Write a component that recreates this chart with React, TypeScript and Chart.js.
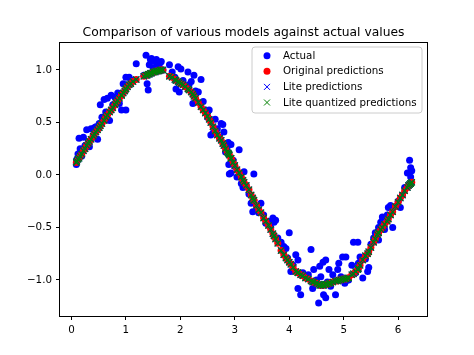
import React, { useEffect, useRef } from "react";
import { Chart, registerables } from "chart.js";

Chart.register(...registerables);

const chartTitle = "Comparison of various models against actual values";
const seriesLabels = ["Actual", "Original predictions", "Lite predictions", "Lite quantized predictions"];
const xTicks = [0, 1, 2, 3, 4, 5, 6];
const yTicks = [-1.0, -0.5, 0.0, 0.5, 1.0];

const xValues = [
  0.09, 0.10, 0.12, 0.14, 0.16, 0.19, 0.22, 0.25, 0.28, 0.31,
  0.33, 0.36, 0.40, 0.42, 0.45, 0.48, 0.51, 0.53, 0.56, 0.60,
  0.63, 0.66, 0.70, 0.73, 0.76, 0.80, 0.82, 0.85, 0.88, 0.92,
  0.92, 0.95, 0.98, 1.00, 1.00, 1.03, 1.06, 1.09, 1.13, 1.19,
  1.33, 1.37, 1.39, 1.41, 1.43, 1.45, 1.47, 1.50, 1.52, 1.54,
  1.56, 1.58, 1.61, 1.63, 1.65, 1.68, 1.80, 1.85, 1.90, 1.92,
  1.96, 1.98, 2.01, 2.05, 2.09, 2.14, 2.16, 2.20, 2.23, 2.25,
  2.28, 2.33, 2.38, 2.42, 2.46, 2.50, 2.53, 2.56, 2.60, 2.64,
  2.68, 2.72, 2.75, 2.78, 2.80, 2.83, 2.86, 2.88, 2.89, 2.90,
  2.93, 2.93, 2.97, 3.00, 3.04, 3.08, 3.12, 3.15, 3.17, 3.21,
  3.26, 3.30, 3.33, 3.35, 3.35, 3.40, 3.44, 3.48, 3.53, 3.57,
  3.62, 3.66, 3.70, 3.72, 3.75, 3.79, 3.85, 3.90, 3.94, 3.97,
  4.00, 4.03, 4.07, 4.12, 4.16, 4.16, 4.21, 4.25, 4.30, 4.35,
  4.40, 4.43, 4.45, 4.50, 4.54, 4.56, 4.58, 4.62, 4.63, 4.67,
  4.67, 4.70, 4.73, 4.76, 4.80, 4.85, 4.89, 4.91, 4.95, 4.98,
  5.02, 5.04, 5.07, 5.09, 5.15, 5.18, 5.22, 5.26, 5.27, 5.30,
  5.35, 5.40, 5.44, 5.46, 5.50, 5.55, 5.58, 5.62, 5.64, 5.64,
  5.68, 5.71, 5.75, 5.80, 5.82, 5.86, 5.90, 5.95, 6.00, 6.04,
  6.08, 6.12, 6.17, 6.19, 6.21, 6.23, 6.23, 6.25,
];

const actualValues = [
  0.10, 0.15, 0.20, 0.35, 0.25, 0.18, 0.36, 0.28, 0.43, 0.32,
  0.27, 0.44, 0.38, 0.45, 0.46, 0.34, 0.49, 0.67, 0.55, 0.72,
  0.60, 0.73, 0.52, 0.76, 0.67, 0.74, 0.70, 0.78, 0.68, 0.62,
  0.77, 0.87, 0.80, 0.62, 0.93, 0.85, 0.93, 0.88, 0.90, 1.06,
  0.95, 1.14, 0.87, 0.81, 1.05, 1.10, 1.11, 1.02, 1.08, 1.00,
  1.10, 1.05, 1.02, 1.07, 1.08, 1.00, 1.05, 0.98, 0.93, 0.82,
  1.03, 0.79, 1.01, 0.90, 0.85, 0.98, 0.86, 0.89, 0.68, 0.95,
  0.80, 0.79, 0.91, 0.70, 0.62, 0.55, 0.62, 0.38, 0.40, 0.53,
  0.44, 0.36, 0.49, 0.48, 0.41, 0.22, 0.27, 0.31, 0.10, 0.01,
  0.29, 0.02, 0.14, 0.08, -0.02, 0.24, -0.08, -0.12, 0.03, -0.10,
  -0.18, -0.27, -0.35, 0.01, -0.24, -0.30, -0.36, -0.27, -0.38, -0.46,
  -0.44, -0.50, -0.41, -0.45, -0.43, -0.60, -0.64, -0.68, -0.70, -0.79,
  -0.55, -0.92, -0.86, -0.76, -0.81, -1.08, -1.14, -0.93, -0.97, -0.95,
  -0.71, -1.08, -0.90, -1.00, -1.22, -0.87, -0.97, -0.83, -1.14, -0.81,
  -1.17, -1.02, -0.90, -1.06, -0.95, -1.14, -0.90, -0.84, -0.97, -0.78,
  -1.03, -0.78, -1.00, -1.00, -0.86, -0.64, -0.93, -0.64, -0.84, -0.78,
  -0.98, -0.80, -0.92, -0.88, -0.66, -0.60, -0.55, -0.57, -0.62, -0.50,
  -0.45, -0.40, -0.52, -0.38, -0.31, -0.29, -0.50, -0.30, -0.25, -0.31,
  -0.19, -0.12, 0.02, -0.10, 0.14, 0.07, -0.02, 0.04,
];

const originalPredictions = [
  0.12, 0.13, 0.15, 0.16, 0.18, 0.20, 0.23, 0.25, 0.28, 0.30,
  0.32, 0.34, 0.37, 0.39, 0.41, 0.43, 0.45, 0.47, 0.49, 0.52,
  0.55, 0.57, 0.60, 0.62, 0.64, 0.67, 0.69, 0.71, 0.73, 0.76,
  0.76, 0.78, 0.80, 0.82, 0.82, 0.84, 0.86, 0.87, 0.89, 0.91,
  0.94, 0.95, 0.95, 0.96, 0.96, 0.97, 0.97, 0.98, 0.98, 0.98,
  0.99, 0.99, 0.99, 1.00, 1.00, 1.00, 0.94, 0.93, 0.91, 0.90,
  0.89, 0.88, 0.87, 0.86, 0.84, 0.82, 0.81, 0.79, 0.77, 0.75,
  0.73, 0.69, 0.65, 0.62, 0.59, 0.56, 0.53, 0.50, 0.46, 0.42,
  0.38, 0.35, 0.33, 0.30, 0.28, 0.25, 0.22, 0.21, 0.20, 0.19,
  0.16, 0.16, 0.12, 0.09, 0.05, 0.02, -0.02, -0.05, -0.07, -0.10,
  -0.14, -0.19, -0.22, -0.24, -0.24, -0.29, -0.33, -0.36, -0.41, -0.44,
  -0.48, -0.52, -0.56, -0.58, -0.61, -0.65, -0.72, -0.76, -0.79, -0.81,
  -0.83, -0.85, -0.88, -0.92, -0.93, -0.93, -0.95, -0.96, -0.98, -0.99,
  -1.01, -1.02, -1.02, -1.03, -1.04, -1.05, -1.05, -1.05, -1.05, -1.04,
  -1.04, -1.04, -1.03, -1.03, -1.02, -1.01, -1.01, -1.00, -1.00, -0.99,
  -0.99, -0.99, -0.98, -0.98, -0.95, -0.94, -0.92, -0.90, -0.89, -0.86,
  -0.81, -0.77, -0.75, -0.73, -0.69, -0.64, -0.61, -0.57, -0.55, -0.55,
  -0.52, -0.50, -0.47, -0.44, -0.42, -0.38, -0.35, -0.30, -0.26, -0.22,
  -0.19, -0.15, -0.12, -0.10, -0.09, -0.08, -0.08, -0.07,
];

// The TFLite float and quantized models reproduce the original predictions.
const litePredictions = originalPredictions;
const liteQuantizedPredictions = originalPredictions;

const FONT = "'DejaVu Sans', 'Liberation Sans', sans-serif";

function fmtY(v: number): string {
  const s = Math.abs(v).toFixed(1);
  return v < 0 ? "\u2212" + s : s;
}

export default function App() {
  const ref = useRef<HTMLCanvasElement>(null);

  useEffect(() => {
    document.body.style.margin = "0";
    const canvas = ref.current;
    if (!canvas) return;
    const pts = (ys: number[]) => xValues.map((x, i) => ({ x, y: ys[i] }));

    const framePlugin = {
      id: "frameTitleLegend",
      afterDraw(chart: any) {
        const ctx = chart.ctx as CanvasRenderingContext2D;
        const ca = chart.chartArea;
        ctx.save();
        // frame
        ctx.strokeStyle = "#000";
        ctx.lineWidth = 1;
        ctx.strokeRect(ca.left - 0.5, ca.top - 0.5, ca.right - ca.left + 1, ca.bottom - ca.top + 1);
        // title
        ctx.fillStyle = "#000";
        ctx.font = `12.3px ${FONT}`;
        ctx.textAlign = "center";
        ctx.textBaseline = "alphabetic";
        ctx.fillText(chartTitle, (ca.left + ca.right) / 2, ca.top - 7.5);
        // legend
        const bw = 170;
        const bh = 66;
        const bx = ca.right - 5 - bw;
        const by = ca.top + 4;
        const r = 3;
        ctx.beginPath();
        ctx.moveTo(bx + r, by);
        ctx.lineTo(bx + bw - r, by);
        ctx.quadraticCurveTo(bx + bw, by, bx + bw, by + r);
        ctx.lineTo(bx + bw, by + bh - r);
        ctx.quadraticCurveTo(bx + bw, by + bh, bx + bw - r, by + bh);
        ctx.lineTo(bx + r, by + bh);
        ctx.quadraticCurveTo(bx, by + bh, bx, by + bh - r);
        ctx.lineTo(bx, by + r);
        ctx.quadraticCurveTo(bx, by, bx + r, by);
        ctx.closePath();
        ctx.fillStyle = "rgba(255,255,255,0.8)";
        ctx.fill();
        ctx.strokeStyle = "#cccccc";
        ctx.lineWidth = 1;
        ctx.stroke();

        const mx = bx + 15;
        const tx = bx + 31;
        const colors = ["#0000ff", "#ff0000", "#0000ff", "#008000"];
        seriesLabels.forEach((label, i) => {
          const y = by + 8.7 + i * 15.6;
          if (i < 2) {
            ctx.beginPath();
            ctx.arc(mx, y, 3.5, 0, Math.PI * 2);
            ctx.fillStyle = colors[i];
            ctx.fill();
          } else {
            ctx.beginPath();
            ctx.moveTo(mx - 3, y - 3);
            ctx.lineTo(mx + 3, y + 3);
            ctx.moveTo(mx - 3, y + 3);
            ctx.lineTo(mx + 3, y - 3);
            ctx.strokeStyle = colors[i];
            ctx.lineWidth = 1;
            ctx.stroke();
          }
          ctx.fillStyle = "#000";
          ctx.font = `10.3px ${FONT}`;
          ctx.textAlign = "left";
          ctx.textBaseline = "middle";
          ctx.fillText(label, tx, y + 0.5);
        });
        ctx.restore();
      },
    };

    const axisCommon = {
      type: "linear" as const,
      border: { display: false },
      grid: {
        drawOnChartArea: false,
        drawTicks: true,
        tickLength: 4,
        color: "#000",
        lineWidth: 1,
      },
    };

    const chart = new Chart(canvas, {
      type: "scatter",
      data: {
        datasets: [
          {
            label: seriesLabels[0],
            data: pts(actualValues),
            backgroundColor: "#0000ff",
            borderWidth: 0,
            pointRadius: 3.5,
            order: 4,
          },
          {
            label: seriesLabels[1],
            data: pts(originalPredictions),
            backgroundColor: "#ff0000",
            borderWidth: 0,
            pointRadius: 3.5,
            order: 3,
          },
          {
            label: seriesLabels[2],
            data: pts(litePredictions),
            pointStyle: "crossRot",
            borderColor: "#0000ff",
            backgroundColor: "#0000ff",
            borderWidth: 1.1,
            pointRadius: 4.4,
            order: 2,
          },
          {
            label: seriesLabels[3],
            data: pts(liteQuantizedPredictions),
            pointStyle: "crossRot",
            borderColor: "#008000",
            backgroundColor: "#008000",
            borderWidth: 1.1,
            pointRadius: 4.4,
            order: 1,
          },
        ],
      },
      options: {
        animation: false,
        responsive: false,
        events: [],
        layout: { padding: { top: 43, right: 47, left: 0, bottom: 0 } },
        plugins: {
          legend: { display: false },
          title: { display: false },
          tooltip: { enabled: false },
        },
        scales: {
          x: {
            ...axisCommon,
            min: -0.21,
            max: 6.53,
            afterBuildTicks: (s: any) => {
              s.ticks = xTicks.map((v) => ({ value: v }));
            },
            afterFit: (s: any) => {
              s.height = 39;
            },
            ticks: {
              color: "#000",
              font: { family: FONT, size: 10.3 },
              padding: 4,
              maxRotation: 0,
              autoSkip: false,
              callback: (v: any) => String(v),
            },
          },
          y: {
            ...axisCommon,
            min: -1.343,
            max: 1.257,
            afterBuildTicks: (s: any) => {
              s.ticks = yTicks.map((v) => ({ value: v }));
            },
            afterFit: (s: any) => {
              s.width = 60;
            },
            ticks: {
              color: "#000",
              font: { family: FONT, size: 10.3 },
              padding: 4,
              autoSkip: false,
              callback: (v: any) => fmtY(Number(v)),
            },
          },
        },
      },
      plugins: [framePlugin],
    } as any);

    return () => chart.destroy();
  }, []);

  return (
    <div style={{ position: "absolute", left: 0, top: 0, width: 474, height: 355 }}>
      <canvas ref={ref} width={474} height={355} style={{ display: "block", width: 474, height: 355 }} />
    </div>
  );
}
